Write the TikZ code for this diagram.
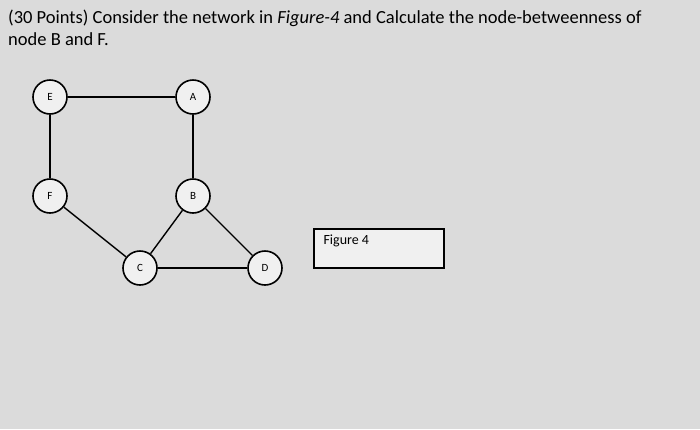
\documentclass[tikz,border=0pt]{standalone}
\usepackage{fontspec}
\setmainfont{Carlito}
\begin{document}
\begin{tikzpicture}[x=1pt,y=-1pt,
  vtx/.style={circle,draw,line width=1.6pt,minimum size=34pt,inner sep=0pt,font=\fontsize{11}{12}\selectfont,fill=gray!12},
  edge/.style={line width=1.4pt}]
\fill[gray!28] (0,0) rectangle (700,429);
\useasboundingbox (0,0) rectangle (700,429);
\node[anchor=north west,align=left,inner sep=0pt,font=\fontsize{18.5}{22}\selectfont] (q) at (8,10)
  {(30 Points) Consider the network in \textit{Figure-4} and Calculate the node-betweenness of\\node B and F.};
\node[vtx] (E) at (50,97) {E};
\node[vtx] (A) at (193,97) {A};
\node[vtx] (F) at (50,196) {F};
\node[vtx] (B) at (193,196) {B};
\node[vtx] (C) at (140,268) {C};
\node[vtx] (D) at (265,268) {D};
\draw[edge] (E) -- (A);
\draw[edge] (E) -- (F);
\draw[edge] (A) -- (B);
\draw[edge] (F) -- (C);
\draw[edge] (C) -- (B);
\draw[edge] (B) -- (D);
\draw[edge] (C) -- (D);
\node[draw,line width=1.6pt,fill=gray!12,minimum width=130pt,minimum height=39pt,anchor=north west] (fig) at (313,228) {};
\node[anchor=north west,font=\fontsize{14}{16}\selectfont] (figlbl) at (320,231) {Figure 4};
\end{tikzpicture}
\end{document}
